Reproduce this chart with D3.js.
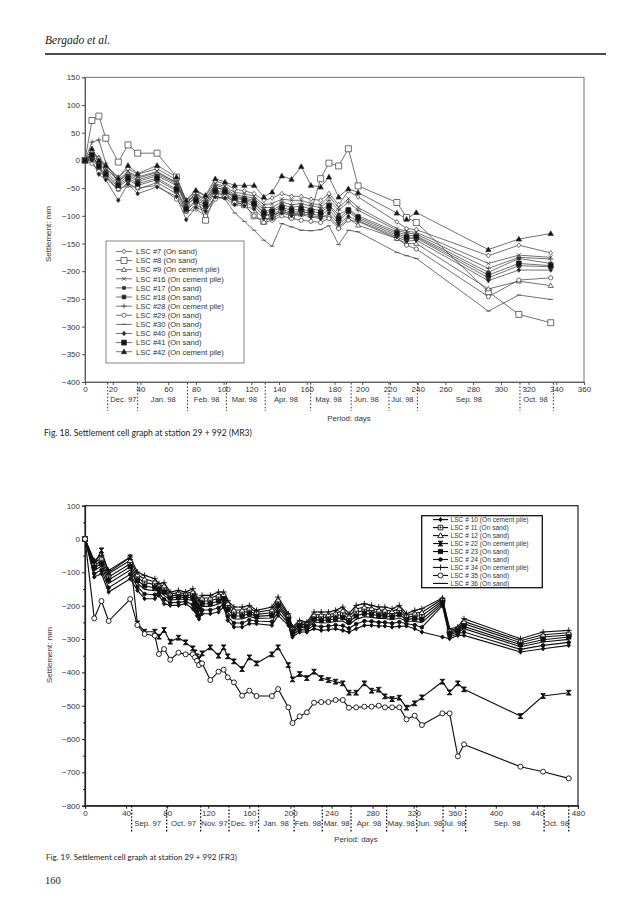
<!DOCTYPE html>
<html><head><meta charset="utf-8">
<script src="https://cdn.jsdelivr.net/npm/d3@7"></script>
<style>body{margin:0;background:#fff} svg{display:block}</style>
</head><body>
<svg id="page" width="638" height="903"></svg>
<script>
// ---------------- Fig. 18 data ----------------
const topDays = [0,5,10,15,24,31,38,52,66,73,80,87,94,101,108,115,122,129,135,142,149,156,163,170,176,183,190,197,225,232,239,291,313,336];
const lsc7  = [0,10,5,-10,-30,-15,-25,-15,-35,-72,-55,-65,-38,-42,-52,-55,-60,-72,-68,-60,-65,-65,-70,-72,-60,-80,-55,-66,-111,-123,-125,-172,-153,-167];
const lsc8  = [0,72,80,40,-3,28,13,13,-30,-75,-62,-108,-60,-62,-75,-80,-100,-110,-102,-90,-100,-95,-93,-33,-5,-10,21,-46,-76,-103,-112,-237,-278,-293];
const lsc9  = [0,15,5,-12,-38,-22,-32,-22,-40,-80,-68,-78,-48,-55,-66,-70,-75,-95,-100,-92,-96,-95,-100,-102,-100,-120,-105,-117,-141,-150,-150,-232,-218,-226];
const lsc16 = [0,8,0,-15,-35,-20,-30,-20,-40,-75,-60,-70,-42,-47,-58,-60,-65,-80,-78,-70,-72,-72,-78,-80,-65,-85,-69,-85,-123,-128,-130,-186,-171,-175];
const lsc17 = [0,5,-5,-20,-42,-28,-38,-28,-45,-82,-65,-76,-50,-52,-65,-68,-72,-90,-90,-80,-85,-82,-88,-90,-80,-98,-88,-100,-129,-135,-136,-202,-177,-186];
const lsc18 = [0,3,-12,-28,-48,-35,-45,-35,-55,-90,-75,-84,-58,-60,-72,-76,-82,-100,-98,-88,-94,-92,-96,-100,-88,-110,-93,-106,-135,-142,-140,-212,-190,-192];
const lsc28 = [0,33,37,-5,-38,-25,-35,-25,-42,-78,-62,-72,-45,-50,-62,-65,-68,-85,-85,-75,-80,-78,-82,-85,-72,-90,-75,-90,-126,-131,-133,-195,-175,-178];
const lsc29 = [0,-5,-20,-30,-52,-45,-50,-45,-70,-92,-88,-100,-70,-65,-75,-80,-100,-112,-108,-100,-105,-108,-110,-112,-105,-123,-108,-110,-141,-153,-160,-246,-216,-212];
const lsc30 = [0,12,-15,-30,-55,-40,-52,-40,-60,-95,-80,-90,-65,-70,-95,-110,-126,-144,-155,-114,-120,-126,-127,-125,-118,-152,-126,-129,-166,-172,-177,-272,-243,-251];
const lsc40 = [0,0,-25,-35,-72,-43,-60,-48,-65,-107,-85,-92,-66,-68,-80,-82,-88,-105,-105,-95,-100,-98,-102,-105,-95,-115,-101,-109,-138,-146,-144,-217,-198,-198];
const lsc41 = [0,10,-10,-25,-45,-32,-42,-32,-52,-88,-72,-80,-55,-56,-68,-72,-78,-95,-92,-85,-90,-88,-92,-95,-82,-105,-90,-103,-132,-139,-138,-207,-186,-190];
const lsc42 = [0,21,0,-9,-32,-9,-24,-9,-30,-72,-54,-63,-33,-39,-45,-45,-45,-66,-57,-28,-34,-11,-45,-48,-30,-66,-51,-58,-95,-106,-94,-161,-142,-132];
const topNames = ["LSC #7 (On sand)","LSC #8 (On sand)","LSC #9 (On cement pile)","LSC #16 (On cement pile)","LSC #17 (On sand)","LSC #18 (On sand)","LSC #28 (On cement pile)","LSC #29 (On sand)","LSC #30 (On sand)","LSC #40 (On sand)","LSC #41 (On sand)","LSC #42 (On cement pile)"];
const topXTicks = [0,20,40,60,80,100,120,140,160,180,200,220,240,260,280,300,320,340,360];
const topYTicks = [150,100,50,0,-50,-100,-150,-200,-250,-300,-350,-400];
const topMonthLines = [16.4,38,74,102,130,162.8,192,219.3,239.8,313.8,337.9];
const topMonths = ["Dec. 97","Jan. 98","Feb. 98","Mar. 98","Apr. 98","May. 98","Jun. 98","Jul. 98","Sep. 98","Oct. 98"];
const topMonthPos = [27.7,56.5,87.8,115,145,175.6,203,229,277,325];

// ---------------- Fig. 19 data ----------------
const botDays = [0,9,16,23,44,51,58,68,72,77,83,91,98,105,107,109,111,114,122,130,135,139,145,153,160,167,182,188,198,202,209,216,223,230,237,244,251,257,264,272,279,286,292,299,306,313,321,328,348,355,363,369,424,446,471];
const lsc10 = [0,-114,-104,-159,-119,-154,-179,-179,-169,-194,-199,-199,-194,-209,-215,-230,-240,-224,-224,-219,-204,-244,-264,-264,-254,-254,-259,-229,-259,-294,-279,-279,-269,-274,-272,-269,-274,-279,-269,-259,-259,-261,-261,-264,-262,-261,-269,-279,-294,-299,-289,-289,-339,-329,-319];
const lsc11 = [0,-79,-66,-114,-74,-116,-130,-137,-145,-150,-171,-168,-170,-167,-180,-192,-202,-186,-186,-177,-173,-202,-222,-222,-216,-226,-221,-191,-235,-273,-255,-258,-234,-236,-235,-231,-225,-241,-220,-214,-217,-221,-221,-226,-218,-235,-231,-230,-185,-278,-272,-254,-311,-294,-288];
const lsc12 = [0,-72,-57,-104,-64,-107,-120,-128,-139,-140,-165,-161,-164,-158,-173,-183,-193,-177,-177,-168,-166,-193,-213,-213,-207,-220,-212,-182,-229,-269,-249,-254,-227,-227,-227,-222,-215,-232,-210,-204,-208,-213,-213,-217,-208,-230,-222,-220,-180,-274,-268,-247,-305,-287,-281];
const lsc22 = [0,-75,-34,-100,-55,-253,-278,-278,-293,-273,-308,-296,-310,-328,-340,-352,-360,-343,-325,-350,-325,-352,-367,-390,-355,-373,-346,-325,-378,-421,-405,-417,-398,-417,-423,-428,-433,-461,-461,-433,-455,-452,-472,-480,-476,-506,-493,-475,-428,-460,-433,-451,-531,-471,-461];
const lsc23 = [0,-86,-74,-123,-83,-124,-141,-146,-150,-159,-177,-174,-175,-176,-188,-200,-210,-194,-194,-186,-179,-211,-231,-231,-224,-232,-229,-199,-240,-278,-260,-263,-242,-244,-243,-239,-236,-249,-231,-223,-226,-230,-230,-234,-227,-241,-239,-241,-190,-283,-275,-262,-317,-302,-294];
const lsc24 = [0,-104,-93,-146,-106,-143,-165,-167,-162,-181,-191,-190,-187,-197,-205,-219,-229,-213,-213,-207,-195,-232,-252,-252,-243,-246,-248,-218,-252,-288,-272,-273,-259,-263,-261,-258,-260,-268,-255,-246,-247,-250,-250,-253,-249,-254,-258,-265,-200,-293,-284,-279,-331,-319,-310];
const lsc34 = [0,-64,-49,-94,-54,-99,-109,-119,-134,-131,-159,-154,-159,-149,-165,-175,-185,-169,-169,-159,-159,-184,-204,-204,-199,-214,-204,-174,-224,-264,-244,-249,-219,-219,-219,-214,-204,-224,-199,-194,-199,-204,-204,-209,-199,-224,-214,-209,-177,-269,-264,-239,-299,-279,-274];
const lsc35 = [0,-238,-186,-246,-180,-258,-285,-290,-345,-330,-362,-341,-346,-346,-355,-365,-378,-373,-423,-398,-392,-415,-430,-470,-455,-471,-471,-450,-505,-552,-532,-520,-491,-489,-489,-483,-483,-506,-505,-503,-503,-500,-505,-505,-505,-541,-530,-558,-523,-523,-652,-616,-683,-698,-718];
const lsc36 = [0,-94,-82,-133,-93,-132,-151,-155,-155,-169,-183,-181,-180,-185,-195,-208,-218,-202,-202,-195,-186,-220,-240,-240,-232,-238,-237,-207,-245,-282,-265,-267,-249,-252,-251,-247,-246,-257,-241,-233,-235,-238,-238,-242,-237,-246,-247,-251,-195,-287,-279,-269,-323,-309,-301];
const botNames = ["LSC # 10 (On cement pile)","LSC # 11 (On sand)","LSC # 12 (On sand)","LSC # 22 (On cement pile)","LSC # 23 (On sand)","LSC # 24 (On sand)","LSC # 34 (On cement pile)","LSC # 35 (On sand)","LSC # 36 (On sand)"];
const botXTicks = [0,40,80,120,160,200,240,280,320,360,400,440,480];
const botYTicks = [100,0,-100,-200,-300,-400,-500,-600,-700,-800];
const botMonthLines = [45.4,79.5,112.6,140.2,169,203.6,231,259,293.7,323,348.6,370.7,447,471];
const botMonths = ["Sep. 97","Oct. 97","Nov. 97","Dec. 97","Jan. 98","Feb. 98","Mar. 98","Apr. 98","May. 98","Jun. 98","Jul. 98","Sep. 98","Oct. 98"];
const botMonthPos = [61,96,126,155,186,217,245,276.5,308,335.5,359.5,411,459];

// ---------------- drawing ----------------
const svg = d3.select("#page");
const SANS = "'Liberation Sans', Arial, sans-serif";
const fmt = d => d < 0 ? "\u2212" + Math.abs(d) : String(d);

function markerPath(shape, r) {
  switch (shape) {
    case "square": return `M${-r},${-r}h${2*r}v${2*r}h${-2*r}Z`;
    case "diamond": return `M0,${-r*1.25}L${r},0L0,${r*1.25}L${-r},0Z`;
    case "triangle": return `M0,${-r}L${r},${r*0.75}L${-r},${r*0.75}Z`;
    case "plus": return `M${-r},0H${r}M0,${-r}V${r}`;
    case "times": return `M${-r},${-r}L${r},${r}M${-r},${r}L${r},${-r}`;
    case "dash": return `M${-r},0H${r}`;
    case "hourglass": return `M${-r},${-r}H${r}L${-r},${r}H${r}Z`;
  }
  return null;
}
function drawMarker(g, m, x, y, color, sw) {
  if (!m || m.shape === "none") return;
  if (m.shape === "circle") {
    g.append("circle").attr("cx", x).attr("cy", y).attr("r", m.r)
      .attr("fill", m.fill).attr("stroke", color).attr("stroke-width", sw);
  } else {
    g.append("path").attr("d", markerPath(m.shape, m.r))
      .attr("transform", `translate(${x},${y})`)
      .attr("fill", m.fill).attr("stroke", color).attr("stroke-width", sw);
  }
  if (m.dot) g.append("circle").attr("cx", x).attr("cy", y).attr("r", m.dot).attr("fill", color);
}

// header
svg.append("text").attr("x", 45).attr("y", 44).text("Bergado et al.")
  .attr("font-family", "'Liberation Serif', serif").attr("font-style", "italic").attr("font-size", 11.5).attr("fill", "#222");
svg.append("line").attr("x1", 45).attr("x2", 606).attr("y1", 54).attr("y2", 54).attr("stroke", "#111").attr("stroke-width", 1.6);

// ======== Figure 18 ========
const x1 = d3.scaleLinear().domain([0, 360]).range([85, 584]);
const y1 = d3.scaleLinear().domain([-400, 150]).range([382, 77.3]);
const g1 = svg.append("g");
g1.append("rect").attr("x", x1(0)).attr("y", y1(150)).attr("width", x1(360) - x1(0)).attr("height", y1(-400) - y1(150))
  .attr("fill", "none").attr("stroke", "#666").attr("stroke-width", 0.9);

const ya1 = g1.append("g").attr("transform", `translate(${x1(0)},0)`)
  .call(d3.axisLeft(y1).tickValues(topYTicks).tickSize(3).tickPadding(2).tickFormat(fmt));
const xa1 = g1.append("g").attr("transform", `translate(0,${y1(-400)})`)
  .call(d3.axisBottom(x1).tickValues(topXTicks).tickSize(3).tickPadding(1.5).tickFormat(fmt));
[ya1, xa1].forEach(a => {
  a.select(".domain").attr("stroke", "#555").attr("stroke-width", 0.9);
  a.selectAll(".tick line").attr("stroke", "#555");
  a.selectAll("text").attr("font-family", SANS).attr("font-size", 8).attr("fill", "#333");
});

// month dividers
topMonthLines.forEach(d => g1.append("line").attr("x1", x1(d)).attr("x2", x1(d)).attr("y1", 383).attr("y2", 411)
  .attr("stroke", "#333").attr("stroke-width", 1).attr("stroke-dasharray", "1.6,1.8"));
topMonths.forEach((m, i) => g1.append("text").attr("x", x1(topMonthPos[i])).attr("y", 401.5).attr("text-anchor", "middle")
  .attr("font-family", SANS).attr("font-size", 7.6).attr("fill", "#333").text(m));
g1.append("text").attr("x", 349).attr("y", 421).attr("text-anchor", "middle").attr("font-family", SANS)
  .attr("font-size", 7.8).attr("fill", "#333").text("Period: days");
g1.append("text").attr("transform", `translate(51,234) rotate(-90)`).attr("text-anchor", "middle")
  .attr("font-family", SANS).attr("font-size", 8).attr("fill", "#333").text("Settlement: mm");

const topSeries = [
  {v: lsc7,  m: {shape: "diamond", r: 1.9, fill: "#fff"}},
  {v: lsc8,  m: {shape: "square", r: 3.0, fill: "#fff"}},
  {v: lsc9,  m: {shape: "triangle", r: 2.5, fill: "#fff"}},
  {v: lsc16, m: {shape: "times", r: 2.0, fill: "none"}},
  {v: lsc17, m: {shape: "square", r: 1.5, fill: "#333"}},
  {v: lsc18, m: {shape: "square", r: 1.9, fill: "#222"}},
  {v: lsc28, m: {shape: "plus", r: 2.6, fill: "none"}},
  {v: lsc29, m: {shape: "circle", r: 2.1, fill: "#fff"}},
  {v: lsc30, m: {shape: "dash", r: 2.4, fill: "none"}},
  {v: lsc40, m: {shape: "diamond", r: 1.8, fill: "#222"}},
  {v: lsc41, m: {shape: "square", r: 2.5, fill: "#111"}},
  {v: lsc42, m: {shape: "triangle", r: 2.7, fill: "#111"}}
];
const line1 = d3.line().x((d, i) => x1(topDays[i])).y(d => y1(d));
const sg1 = g1.append("g");
topSeries.forEach(s => {
  sg1.append("path").attr("d", line1(s.v)).attr("fill", "none").attr("stroke", "#444").attr("stroke-width", 0.75);
});
topSeries.forEach(s => {
  s.v.forEach((v, i) => drawMarker(sg1, s.m, x1(topDays[i]), y1(v), "#333", 0.7));
});

// legend top
const lg1 = g1.append("g");
lg1.append("rect").attr("x", 106).attr("y", 241).attr("width", 138).attr("height", 122)
  .attr("fill", "#fff").attr("stroke", "#666").attr("stroke-width", 0.8);
topNames.forEach((n, i) => {
  const yy = 251.4 + i * 9.12;
  lg1.append("line").attr("x1", 116).attr("x2", 132).attr("y1", yy).attr("y2", yy).attr("stroke", "#444").attr("stroke-width", 0.75);
  drawMarker(lg1, topSeries[i].m, 124, yy, "#333", 0.7);
  lg1.append("text").attr("x", 136).attr("y", yy + 2.8).attr("font-family", SANS).attr("font-size", 7.6)
    .attr("fill", "#333").text(n);
});

// caption helper
function caption(x, y, txt, w) {
  const t = svg.append("text").attr("x", x).attr("y", y).attr("font-family", "Lato, 'Open Sans', sans-serif")
    .attr("font-size", 8).attr("fill", "#222").text(txt);
  const L = t.node().getComputedTextLength();
  if (w && L > 0) t.attr("font-size", 8 * w / L);
  return t;
}
caption(44, 436, "Fig. 18.  Settlement cell graph at station 29 + 992 (MR3)", 208);

// ======== Figure 19 ========
const x2 = d3.scaleLinear().domain([0, 480]).range([85, 578]);
const y2 = d3.scaleLinear().domain([-800, 100]).range([805.7, 505.7]);
const g2 = svg.append("g");
g2.append("rect").attr("x", x2(0)).attr("y", y2(100)).attr("width", x2(480) - x2(0)).attr("height", y2(-800) - y2(100))
  .attr("fill", "none").attr("stroke", "#222").attr("stroke-width", 1.2);
const ya2 = g2.append("g").attr("transform", `translate(${x2(0)},0)`)
  .call(d3.axisLeft(y2).tickValues(botYTicks).tickSize(3).tickPadding(2).tickFormat(fmt));
const yMinor = g2.append("g").attr("transform", `translate(${x2(0)},0)`)
  .call(d3.axisLeft(y2).tickValues(d3.range(-750, 100, 100)).tickSize(2).tickFormat(""));
yMinor.select(".domain").remove();
const xa2 = g2.append("g").attr("transform", `translate(0,${y2(-800)})`)
  .call(d3.axisBottom(x2).tickValues(botXTicks).tickSize(3).tickPadding(2).tickFormat(fmt));
[ya2, xa2, yMinor].forEach(a => {
  a.select(".domain").attr("stroke", "#222").attr("stroke-width", 1.2);
  a.selectAll(".tick line").attr("stroke", "#222");
  a.selectAll("text").attr("font-family", SANS).attr("font-size", 8).attr("fill", "#333");
});
botMonthLines.forEach(d => g2.append("line").attr("x1", x2(d)).attr("x2", x2(d)).attr("y1", 806).attr("y2", 832)
  .attr("stroke", "#111").attr("stroke-width", 1.3).attr("stroke-dasharray", "1.6,1.8"));
botMonths.forEach((m, i) => g2.append("text").attr("x", x2(botMonthPos[i])).attr("y", 826).attr("text-anchor", "middle")
  .attr("font-family", SANS).attr("font-size", 7.8).attr("fill", "#333").text(m));
g2.append("text").attr("x", 356).attr("y", 842).attr("text-anchor", "middle").attr("font-family", SANS)
  .attr("font-size", 7.8).attr("fill", "#333").text("Period: days");
g2.append("text").attr("transform", `translate(52,655) rotate(-90)`).attr("text-anchor", "middle")
  .attr("font-family", SANS).attr("font-size", 8).attr("fill", "#333").text("Settlement: mm");

const botSeries = [
  {v: lsc10, m: {shape: "diamond", r: 1.7, fill: "#111"}},
  {v: lsc11, m: {shape: "square", r: 2.3, fill: "#fff", dot: 1.0}},
  {v: lsc12, m: {shape: "triangle", r: 2.8, fill: "#fff"}},
  {v: lsc22, m: {shape: "hourglass", r: 2.4, fill: "#111"}},
  {v: lsc23, m: {shape: "square", r: 2.1, fill: "#111"}},
  {v: lsc24, m: {shape: "circle", r: 1.8, fill: "#111"}},
  {v: lsc34, m: {shape: "plus", r: 3.0, fill: "none"}},
  {v: lsc35, m: {shape: "circle", r: 2.5, fill: "#fff"}},
  {v: lsc36, m: {shape: "none"}}
];
const line2 = d3.line().x((d, i) => x2(botDays[i])).y(d => y2(d));
const sg2 = g2.append("g");
botSeries.forEach(s => {
  sg2.append("path").attr("d", line2(s.v)).attr("fill", "none").attr("stroke", "#111").attr("stroke-width", 1.15);
});
botSeries.forEach(s => {
  s.v.forEach((v, i) => drawMarker(sg2, s.m, x2(botDays[i]), y2(v), "#111", 0.9));
});

const lg2 = g2.append("g");
lg2.append("rect").attr("x", 421.7).attr("y", 515.7).attr("width", 120.6).attr("height", 72)
  .attr("fill", "#fff").attr("stroke", "#111").attr("stroke-width", 1.3);
botNames.forEach((n, i) => {
  const yy = 519.6 + i * 7.98;
  lg2.append("line").attr("x1", 433).attr("x2", 448).attr("y1", yy).attr("y2", yy).attr("stroke", "#111").attr("stroke-width", 1.15);
  drawMarker(lg2, botSeries[i].m, 440.5, yy, "#111", 0.9);
  lg2.append("text").attr("x", 450.5).attr("y", yy + 2.4).attr("font-family", SANS).attr("font-size", 6.6)
    .attr("fill", "#333").text(n);
});

caption(46, 860, "Fig. 19.  Settlement cell graph at station 29 + 992 (FR3)", 191);
svg.append("text").attr("x", 45).attr("y", 884).attr("font-family", "'Liberation Serif', serif").attr("font-size", 10.5)
  .attr("fill", "#222").text("160");
</script>
</body></html>
